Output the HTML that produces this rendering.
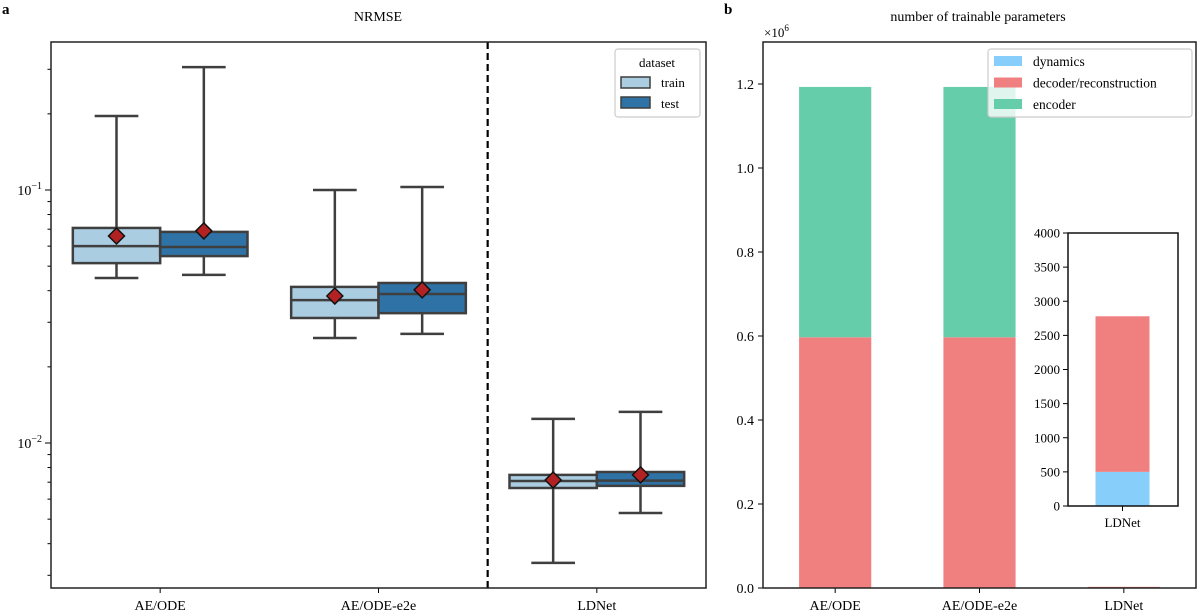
<!DOCTYPE html>
<html><head><meta charset="utf-8"><style>
body{margin:0;background:#fff}
svg{display:block;font-family:"Liberation Serif",serif}
</style></head><body>
<svg id="fig" width="1200" height="615" viewBox="0 0 1200 615">
<text x="2" y="14" font-size="15" font-weight="bold">a</text>
<text x="724" y="14" font-size="15" font-weight="bold">b</text>
<text x="378" y="21" font-size="14" text-anchor="middle">NRMSE</text>
<text x="978" y="21" font-size="14" text-anchor="middle">number of trainable parameters</text>
<g id="left"></g>
<g id="right"></g>
</svg>
<script>
const categories=["AE/ODE","AE/ODE-e2e","LDNet"];
const trainLow=[0.0449,0.0260,0.00336];
const trainQ1=[0.0514,0.0312,0.00664];
const trainMed=[0.0600,0.0367,0.00708];
const trainQ3=[0.0708,0.0414,0.00748];
const trainHigh=[0.196,0.100,0.01245];
const trainMean=[0.0658,0.0381,0.00714];
const testLow=[0.0462,0.0270,0.00529];
const testQ1=[0.0548,0.0326,0.00677];
const testMed=[0.0595,0.0388,0.00710];
const testQ3=[0.0683,0.0429,0.00768];
const testHigh=[0.306,0.1028,0.01327];
const testMean=[0.0689,0.0403,0.00748];
const paramCats=["AE/ODE","AE/ODE-e2e","LDNet"];
const dynamicsParams=[0,0,500];
const decoderParams=[597000,597000,2280];
const encoderParams=[596000,596000,0];
const mainTicks=[0,0.2,0.4,0.6,0.8,1.0,1.2];
const insetTicks=[0,500,1000,1500,2000,2500,3000,3500,4000];

const NS="http://www.w3.org/2000/svg";
function mk(parent,tag,attrs,text){const e=document.createElementNS(NS,tag);for(const k in attrs)e.setAttribute(k,attrs[k]);if(text!==undefined)e.textContent=text;parent.appendChild(e);return e;}
const L=document.getElementById('left'),R=document.getElementById('right');
// left axes
const lx0=51,lx1=706,ly0=42,ly1=588;
const step=(lx1-lx0)/3;
const xc=i=>lx0+step*(i+0.5);
const yl=v=>190-253*Math.log10(v/0.1);
const ln="#3f3f3f";
// minor ticks
for(let d=-3;d<=-1;d++){for(let m=1;m<10;m++){const v=m*Math.pow(10,d);const y=yl(v);if(y<ly0||y>ly1)continue;
const t=mk(L,'line',{x1:lx0,x2:lx0-(m===1?6:3.5),y1:y,y2:y,stroke:"#000","stroke-width":1});

if(m===1){const lb=mk(L,'text',{x:lx0-9,y:y+5,"font-size":14,"text-anchor":"end"});
lb.textContent="10";const s=mk(lb,'tspan',{dy:-6,"font-size":10},"\u2212"+(-d));}}}
// divider
const dv=mk(L,'line',{x1:lx0+step*2,x2:lx0+step*2,y1:ly0,y2:ly1,stroke:"#000","stroke-width":2.2,"stroke-dasharray":"7,4"});

function box(i,off,low,q1,med,q3,high,mean,fill,name){
 const g=mk(L,'g',{});
 const w=step*0.8/2,xa=xc(i)+off*w-w/2+ (off<0?0:0),xl=xc(i)+(off<0?-w:0),cx=xl+w/2;
 mk(g,'line',{x1:cx,x2:cx,y1:yl(high),y2:yl(q3),stroke:ln,"stroke-width":2.5});
 mk(g,'line',{x1:cx,x2:cx,y1:yl(q1),y2:yl(low),stroke:ln,"stroke-width":2.5});
 mk(g,'line',{x1:cx-w/4,x2:cx+w/4,y1:yl(high),y2:yl(high),stroke:ln,"stroke-width":2.5});
 mk(g,'line',{x1:cx-w/4,x2:cx+w/4,y1:yl(low),y2:yl(low),stroke:ln,"stroke-width":2.5});
 mk(g,'rect',{x:xl,y:yl(q3),width:w,height:yl(q1)-yl(q3),fill:fill,stroke:ln,"stroke-width":2.5});
 mk(g,'line',{x1:xl,x2:xl+w,y1:yl(med),y2:yl(med),stroke:ln,"stroke-width":2.5});
 const my=yl(mean);
 mk(g,'polygon',{points:`${cx},${my-8} ${cx+8},${my} ${cx},${my+8} ${cx-8},${my}`,fill:"#b22222",stroke:"#111","stroke-width":1.5});
}
for(let i=0;i<3;i++){
 box(i,-1,trainLow[i],trainQ1[i],trainMed[i],trainQ3[i],trainHigh[i],trainMean[i],"#abcde2","box-train-"+i);
 box(i,1,testLow[i],testQ1[i],testMed[i],testQ3[i],testHigh[i],testMean[i],"#2e72a6","box-test-"+i);
 const t=mk(L,'line',{x1:xc(i),x2:xc(i),y1:ly1,y2:ly1+5,stroke:"#000","stroke-width":1});
 
 const lb=mk(L,'text',{x:xc(i),y:ly1+22,"font-size":14,"text-anchor":"middle"},categories[i]);
 
}
const sp=mk(L,'rect',{x:lx0,y:ly0,width:lx1-lx0,height:ly1-ly0,fill:"none",stroke:"#222","stroke-width":1.5});

// left legend
const lg=mk(L,'g',{});
mk(lg,'rect',{x:615,y:49,width:85,height:68,rx:3,fill:"#fff","fill-opacity":0.85,stroke:"#ccc","stroke-width":1.2});
mk(lg,'text',{x:657,y:67,"font-size":13,"text-anchor":"middle"},"dataset");
mk(lg,'rect',{x:621,y:77,width:29,height:11,fill:"#abcde2",stroke:ln,"stroke-width":1.5});
mk(lg,'text',{x:661,y:87,"font-size":13},"train");
mk(lg,'rect',{x:621,y:97,width:29,height:11,fill:"#2e72a6",stroke:ln,"stroke-width":1.5});
mk(lg,'text',{x:661,y:108,"font-size":13},"test");

// right axes
const rx0=763,rx1=1196,ry0=42,ry1=588;
const rstep=(rx1-rx0)/3;const rxc=i=>rx0+rstep*(i+0.5);
const yr=v=>ry1-(v/1.3e6)*(ry1-ry0);
mainTicks.forEach(t=>{const y=yr(t*1e6);
 const tk=mk(R,'line',{x1:rx0,x2:rx0-5,y1:y,y2:y,stroke:"#000","stroke-width":1});
 const lb=mk(R,'text',{x:rx0-9,y:y+5,"font-size":14,"text-anchor":"end"},t.toFixed(1));});
const ex=mk(R,'text',{x:764,y:37,"font-size":13},"\u00d710");
mk(ex,'tspan',{dy:-6,"font-size":9},"6");
const bw=rstep*0.5;
for(let i=0;i<3;i++){
 const x=rxc(i)-bw/2;let base=0;
 [[dynamicsParams,"#87cefa","dynamics"],[decoderParams,"#f08080","decoder"],[encoderParams,"#66cdaa","encoder"]].forEach(([arr,c,n])=>{
  const r=mk(R,'rect',{x:x,y:yr(base+arr[i]),width:bw,height:yr(base)-yr(base+arr[i]),fill:c});
  base+=arr[i];});
 const t=mk(R,'line',{x1:rxc(i),x2:rxc(i),y1:ry1,y2:ry1+5,stroke:"#000","stroke-width":1});
 const lb=mk(R,'text',{x:rxc(i),y:ry1+22,"font-size":14,"text-anchor":"middle"},paramCats[i]);
}
const rf=mk(R,'rect',{x:rx0,y:ry0,width:rx1-rx0,height:ry1-ry0,fill:"none",stroke:"#222","stroke-width":1.5});

// legend
const rl=mk(R,'g',{});
mk(rl,'rect',{x:988,y:49,width:204,height:68,rx:3,fill:"#fff","fill-opacity":0.8,stroke:"#ccc","stroke-width":1.2});
[["#87cefa","dynamics"],["#f08080","decoder/reconstruction"],["#66cdaa","encoder"]].forEach(([c,n],k)=>{
 mk(rl,'rect',{x:994,y:56+k*21.5,width:28,height:10,fill:c});
 mk(rl,'text',{x:1033,y:66+k*21.5,"font-size":13.5},n);});
// inset
const ix0=1068,ix1=1178,iy0=233,iy1=506;
const yi=v=>iy1-(v/4000)*(iy1-iy0);
const inset=mk(R,'g',{});
mk(inset,'rect',{x:ix0,y:iy0,width:ix1-ix0,height:iy1-iy0,fill:"#fff"});
const ic=(ix0+ix1)/2-0.5;let b2=0;const ibw=54;
[[dynamicsParams,"#87cefa","dynamics"],[decoderParams,"#f08080","decoder"],[encoderParams,"#66cdaa","encoder"]].forEach(([arr,c,n])=>{
 const r=mk(inset,'rect',{x:ic-ibw/2,y:yi(b2+arr[2]),width:ibw,height:yi(b2)-yi(b2+arr[2]),fill:c});
 b2+=arr[2];});
insetTicks.forEach(t=>{const y=yi(t);
 const tk=mk(inset,'line',{x1:ix0,x2:ix0-5,y1:y,y2:y,stroke:"#000","stroke-width":1});
 const lb=mk(inset,'text',{x:ix0-8,y:y+4.5,"font-size":13,"text-anchor":"end"},String(t));});
mk(inset,'line',{x1:ic,x2:ic,y1:iy1,y2:iy1+5,stroke:"#000","stroke-width":1});
const il=mk(inset,'text',{x:ic,y:iy1+21,"font-size":13,"text-anchor":"middle"},"LDNet");
mk(inset,'rect',{x:ix0,y:iy0,width:ix1-ix0,height:iy1-iy0,fill:"none",stroke:"#111","stroke-width":1.5});
</script>
</body></html>
